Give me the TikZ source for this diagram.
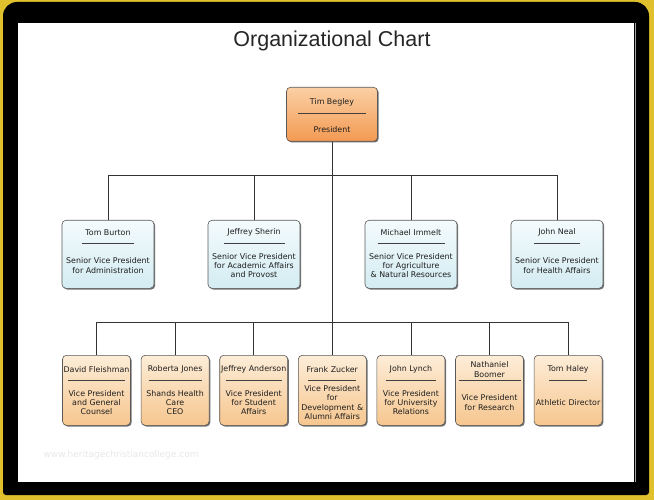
\documentclass[tikz,border=0pt]{standalone}
\usepackage{fontspec}
\setmainfont{DejaVu Sans}
\newfontfamily\titlefont{Liberation Sans}
\usetikzlibrary{calc,shadows}
\definecolor{frameyellow}{HTML}{E0C02C}
\definecolor{prestop}{HTML}{FBD0A4}
\definecolor{presbot}{HTML}{F39A52}
\definecolor{vptop}{HTML}{F4FBFD}
\definecolor{vpbot}{HTML}{D3ECF2}
\definecolor{subtop}{HTML}{FDEDD8}
\definecolor{subbot}{HTML}{F6C68F}
\definecolor{txt}{HTML}{1E1E1E}
\tikzset{
  orgbase/.style={draw=black!65, line width=0.6pt, rounded corners=4pt, inner sep=0pt,
    drop shadow={shadow xshift=1.2pt, shadow yshift=-1.2pt, fill=black!75, opacity=0.75}},
  presbox/.style={orgbase, top color=prestop, bottom color=presbot, minimum width=91pt},
  vpbox/.style={orgbase, top color=vptop, bottom color=vpbot, minimum width=92pt},
  subbox/.style={orgbase, top color=subtop, bottom color=subbot, minimum width=68pt},
  boxtext/.style={text=txt, align=center, inner sep=0pt, font=\fontsize{7.9}{9.4}\selectfont},
  divider/.style={draw=black!75, line width=0.6pt},
  conn/.style={draw=black!80, line width=0.6pt},
}
% #1 id, #2 style, #3 x, #4 top, #5 height, #6 divider offset, #7 divider width, #8 name, #9 title
\newcommand\orgbox[9]{%
  \node[#2, minimum height=#5pt, anchor=north] (#1) at (#3,#4) {};
  \draw[divider] ($(#1.north)+(-#7/2,#6)$) -- ($(#1.north)+(#7/2,#6)$);
  \node[boxtext] (#1-n) at ($(#1.north)+(0,#6-10.5)$) {#8};
  \node[boxtext] (#1-t) at ($(#1.north)+(0,{(#6+#5)/2})$) {#9};
}
\begin{document}
\begin{tikzpicture}[x=1pt,y=-1pt]
\useasboundingbox (0,0) rectangle (654,500);
\fill[frameyellow] (0,0) rectangle (654,500);
\fill[black] (3,16) -- (3,492) arc[start angle=180, end angle=270, radius=3pt] -- (646,495)
  arc[start angle=270, end angle=360, radius=3pt] -- (649,16)
  arc[start angle=0, end angle=90, radius=14pt] -- (17,2)
  arc[start angle=90, end angle=180, radius=14pt] -- cycle;
\fill[white] (18,23) rectangle (634,482);
\draw[black!35, line width=0.8pt] (635.6,23) -- (635.6,482);
\node[font=\titlefont\fontsize{21.5}{24}\selectfont, text=black!85] (title) at (332,41) {Organizational Chart};
\node[font=\fontsize{9}{10}\selectfont, text=black!9, anchor=west] (wm) at (40,455) {www.heritagechristiancollege.com};

% bus coordinates
\coordinate (b1L) at (108,175);
\coordinate (b1R) at (557,175);
\coordinate (b2L) at (96.5,322);
\coordinate (b2R) at (568.1,322);

% president
\node[presbox, minimum height=54pt, anchor=north] (pres) at (332,87) {};
\draw[divider] ($(pres.north)+(-34,26)$) -- ($(pres.north)+(34,26)$);
\node[boxtext] (pres-n) at ($(pres.north)+(0,15.5)$) {Tim Begley};
\node[boxtext] (pres-t) at ($(pres.north)+(0,42.5)$) {President};

\orgbox{v1}{vpbox}{108}{220}{68}{23}{52}{Tom Burton}{Senior Vice President\\for Administration}
\orgbox{v2}{vpbox}{254}{220}{68}{23}{61}{Jeffrey Sherin}{Senior Vice President\\for Academic Affairs\\and Provost}
\orgbox{v3}{vpbox}{411}{220}{68}{23}{67}{Michael Immelt}{Senior Vice President\\for Agriculture\\\& Natural Resources}
\orgbox{v4}{vpbox}{557}{220}{68}{23}{46}{John Neal}{Senior Vice President\\for Health Affairs}

\orgbox{s1}{subbox}{96.5}{355}{70}{25}{57}{David Fleishman}{Vice President\\and General\\Counsel}
\orgbox{s2}{subbox}{175.1}{355}{70}{25}{53}{Roberta Jones}{Shands Health\\Care\\CEO}
\orgbox{s3}{subbox}{253.7}{355}{70}{25}{56}{Jeffrey Anderson}{Vice President\\for Student\\Affairs}
\orgbox{s4}{subbox}{332.3}{355}{70}{25}{48}{Frank Zucker}{Vice President\\for\\Development \&\\Alumni Affairs}
\orgbox{s5}{subbox}{410.9}{355}{70}{25}{50}{John Lynch}{Vice President\\for University\\Relations}
\orgbox{s6}{subbox}{489.5}{355}{70}{25}{62}{Nathaniel\\Boomer}{Vice President\\for Research}
\orgbox{s7}{subbox}{568.1}{355}{70}{25}{38}{Tom Haley}{Athletic Director}

% connectors
\draw[conn] (b1L) -- (b1R);
\draw[conn] (b2L) -- (b2R);
\draw[conn] (pres.south) -- (pres.south |- b2L);
\foreach \v in {v1,v2,v3,v4} { \draw[conn] (\v.north) -- (\v.north |- b1L); }
\foreach \s in {s1,s2,s3,s4,s5,s6,s7} { \draw[conn] (\s.north) -- (\s.north |- b2L); }
\end{tikzpicture}
\end{document}
